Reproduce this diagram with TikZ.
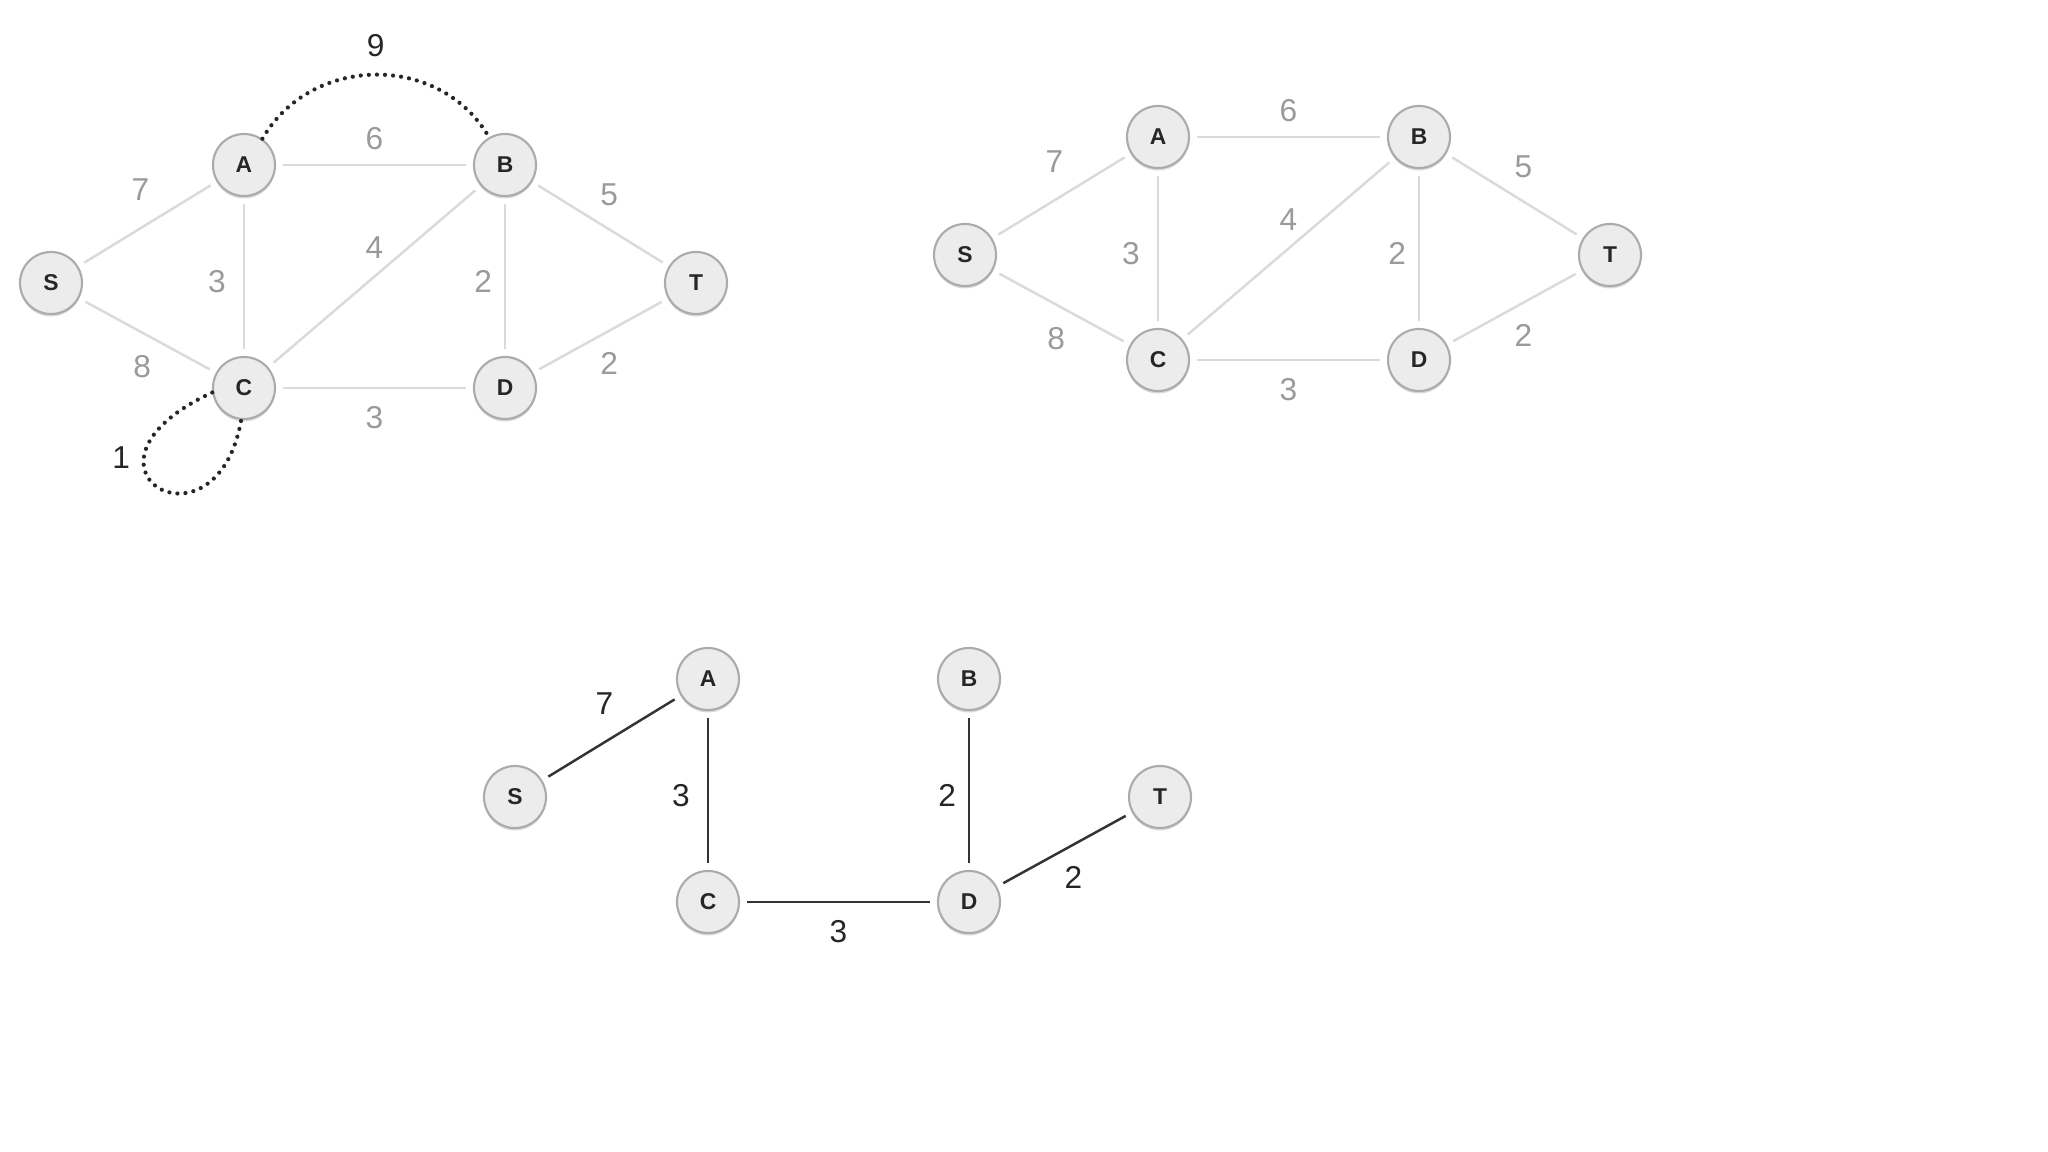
\documentclass[tikz,border=0pt]{standalone}
\usepackage{fontspec}
\setmainfont{Liberation Sans}
\usetikzlibrary{calc,positioning,shadows}

\definecolor{edgegray}{HTML}{DADADA}
\definecolor{wtgray}{HTML}{9A9A9A}
\definecolor{nodefill}{HTML}{ECECEC}
\definecolor{nodeline}{HTML}{ABABAB}
\definecolor{darkline}{HTML}{333333}

\tikzset{
  vertex/.style={circle,minimum size=0.62cm,inner sep=0pt,fill=nodefill,draw=nodeline,line width=0.6pt,
    font=\fontsize{6.5}{7}\selectfont\bfseries,text=black!85,
    drop shadow={shadow xshift=0pt,shadow yshift=-0.7pt,opacity=0.3}},
  lightedge/.style={draw=edgegray,line width=0.7pt,shorten <=2pt,shorten >=2pt},
  darkedge/.style={draw=darkline,line width=0.7pt,shorten <=2pt,shorten >=2pt},
  lightwt/.style={font=\fontsize{9}{10}\selectfont,text=wtgray},
  darkwt/.style={font=\fontsize{9}{10}\selectfont,text=black!85},
  dotline/.style={line width=1.2pt,dash pattern=on 0pt off 2.3pt,line cap=round,draw=black!85},
}

\begin{document}
\begin{tikzpicture}[x=0.01cm,y=-0.01cm]

\useasboundingbox (0,0) rectangle (2048,1152);

%%%%%%%%%%%%%%%%%%%%%
%graph 1 (with loop and parallel edge)

\node[vertex] (A1) at (244,165) {A};
\node[vertex] (S1) at ($(A1)+(-193,118)$) {S};
\node[vertex] (B1) at ($(A1)+(261,0)$) {B};
\node[vertex] (T1) at ($(A1)+(452,118)$) {T};
\node[vertex] (C1) at ($(A1)+(0,223)$) {C};
\node[vertex] (D1) at ($(A1)+(261,223)$) {D};

\draw[lightedge] (S1) -- node[lightwt,above=3pt,xshift=-2pt] {7} (A1);
\draw[lightedge] (S1) -- node[lightwt,below=2pt,xshift=-1.5pt] {8} (C1);
\draw[lightedge] (A1) -- node[lightwt,above=0.5pt] {6} (B1);
\draw[lightedge] (A1) -- node[lightwt,left=1.5pt,yshift=-1.5pt] {3} (C1);
\draw[lightedge] (C1) -- node[lightwt,above=1.5pt] {4} (B1);
\draw[lightedge] (B1) -- node[lightwt,left=0pt,yshift=-1.5pt] {2} (D1);
\draw[lightedge] (B1) -- node[lightwt,above=1.5pt,xshift=2.5pt] {5} (T1);
\draw[lightedge] (C1) -- node[lightwt,below=1.5pt] {3} (D1);
\draw[lightedge] (D1) -- node[lightwt,below=1pt,xshift=2.5pt] {2} (T1);

%dotted edges
\draw[dotline] (A1.55) to[out=60,in=120,looseness=1.1] node[darkwt,above=1pt] {9} (B1.120);
\draw[dotline] (C1.188) .. controls +(205:1.75cm) and +(-100:1.45cm) .. (C1.265)
  node[darkwt,pos=0.3,left=0pt] {1};

%%%%%%%%%%%%%%%%%%%%%
%graph 2 (loop and parallel edge removed)

\node[vertex] (A2) at (1158,137) {A};
\node[vertex] (S2) at ($(A2)+(-193,118)$) {S};
\node[vertex] (B2) at ($(A2)+(261,0)$) {B};
\node[vertex] (T2) at ($(A2)+(452,118)$) {T};
\node[vertex] (C2) at ($(A2)+(0,223)$) {C};
\node[vertex] (D2) at ($(A2)+(261,223)$) {D};

\draw[lightedge] (S2) -- node[lightwt,above=3pt,xshift=-2pt] {7} (A2);
\draw[lightedge] (S2) -- node[lightwt,below=2pt,xshift=-1.5pt] {8} (C2);
\draw[lightedge] (A2) -- node[lightwt,above=0.5pt] {6} (B2);
\draw[lightedge] (A2) -- node[lightwt,left=1.5pt,yshift=-1.5pt] {3} (C2);
\draw[lightedge] (C2) -- node[lightwt,above=1.5pt] {4} (B2);
\draw[lightedge] (B2) -- node[lightwt,left=0pt,yshift=-1.5pt] {2} (D2);
\draw[lightedge] (B2) -- node[lightwt,above=1.5pt,xshift=2.5pt] {5} (T2);
\draw[lightedge] (C2) -- node[lightwt,below=1.5pt] {3} (D2);
\draw[lightedge] (D2) -- node[lightwt,below=1pt,xshift=2.5pt] {2} (T2);

%%%%%%%%%%%%%%%%%%%%%
%graph 3 (spanning tree)

\node[vertex] (A3) at (708,679) {A};
\node[vertex] (S3) at ($(A3)+(-193,118)$) {S};
\node[vertex] (B3) at ($(A3)+(261,0)$) {B};
\node[vertex] (T3) at ($(A3)+(452,118)$) {T};
\node[vertex] (C3) at ($(A3)+(0,223)$) {C};
\node[vertex] (D3) at ($(A3)+(261,223)$) {D};

\draw[darkedge] (S3) -- node[darkwt,above=3pt,xshift=-2pt] {7} (A3);
\draw[darkedge] (A3) -- node[darkwt,left=1.5pt,yshift=-1.5pt] {3} (C3);
\draw[darkedge] (B3) -- node[darkwt,left=0pt,yshift=-1.5pt] {2} (D3);
\draw[darkedge] (C3) -- node[darkwt,below=1.5pt] {3} (D3);
\draw[darkedge] (D3) -- node[darkwt,below=1pt,xshift=2.5pt] {2} (T3);

%%%%%%%%%%%%%%%%%%%%%%

\end{tikzpicture}
\end{document}
